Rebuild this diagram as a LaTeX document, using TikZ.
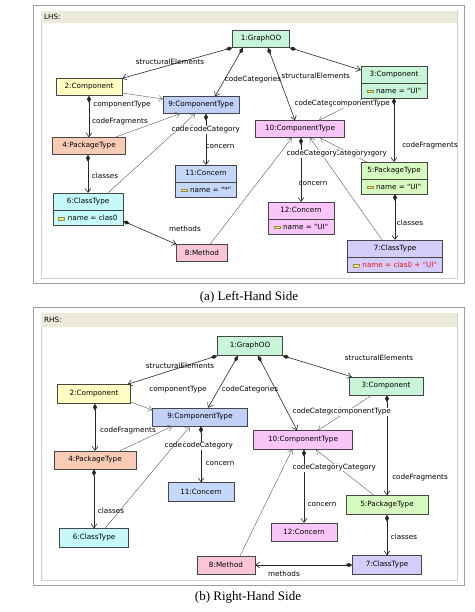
\documentclass[tikz,border=0pt]{standalone}
\usepackage{fontspec}
\setmainfont{Liberation Serif}
\newfontfamily\diafont{DejaVu Sans}
\usepackage{xcolor}
\usetikzlibrary{arrows.meta,shapes.multipart}

\definecolor{objline}{RGB}{70,70,70}
\definecolor{graphfill}{RGB}{200,244,216}
\definecolor{compfill}{RGB}{255,255,196}
\definecolor{ctypefill}{RGB}{192,208,248}
\definecolor{packfill}{RGB}{250,204,182}
\definecolor{classfill}{RGB}{198,250,250}
\definecolor{concernfill}{RGB}{198,216,250}
\definecolor{methodfill}{RGB}{250,198,214}
\definecolor{pinkfill}{RGB}{250,198,250}
\definecolor{limefill}{RGB}{214,250,192}
\definecolor{lilacfill}{RGB}{214,204,250}
\definecolor{headfill}{RGB}{236,234,218}
\definecolor{attrfill}{RGB}{240,230,140}
\definecolor{attrline}{RGB}{150,140,60}
\definecolor{attrred}{RGB}{230,20,20}

\newcommand{\objfont}{\diafont\fontsize{7.2}{8.5}\selectfont}
\newcommand{\attricon}{\raisebox{0.6pt}{\setlength{\fboxsep}{0pt}\setlength{\fboxrule}{0.4pt}\fcolorbox{attrline}{attrfill}{\rule{0pt}{2.4pt}\rule{5.5pt}{0pt}}}\hspace{3pt}}

\begin{document}
\begin{tikzpicture}[x=1pt,y=-1pt,
  obj/.style={draw=objline, font=\objfont, inner xsep=2pt, inner ysep=0pt, minimum height=17pt},
  objattr/.style={draw=objline, font=\objfont, rectangle split, rectangle split parts=2, inner xsep=2pt, inner ysep=4.5pt, text height=6pt, text depth=1.5pt},
  comp/.style={{Diamond[length=7pt,width=4pt]}-{Straight Barb[length=4pt,width=6pt]}, draw=black!85, line width=0.6pt},
  assoc/.style={-{Straight Barb[length=4pt,width=6pt]}, draw=black!65, line width=0.4pt},
  lbl/.style={font=\objfont, inner sep=0.4pt},
  toplbl/.style={lbl, fill=white},
  panel/.style={draw=gray!75, line width=0.8pt},
  innerpanel/.style={draw=gray!35, line width=0.5pt},
  header/.style={fill=headfill},
  caption/.style={font=\fontsize{13}{15}\selectfont}
]
\useasboundingbox (0,0) rectangle (474,612);

% left-hand side
\draw[panel] (33,5) rectangle (464,283);
\draw[innerpanel] (41,11) rectangle (457,278);
\fill[header] (41,11) rectangle (457,23);
\node[anchor=west, font=\objfont, inner sep=0pt] (lhs) at (44,17) {LHS:};
\node[caption] (capa) at (249,297) {(a) Left-Hand Side};

\node[obj, fill=graphfill, minimum width=57pt] (l1) at (261,39) {1:GraphOO};
\node[obj, fill=compfill, minimum width=66pt] (l2) at (89,87) {2:Component};
\node[obj, fill=ctypefill, minimum width=76pt] (l9) at (201,105) {9:ComponentType};
\node[obj, fill=packfill, minimum width=73pt] (l4) at (89,146) {4:PackageType};
\node[objattr, fill=classfill, minimum width=70pt] (l6) at (88,209) {6:ClassType\nodepart{two}\attricon name = clas0};
\node[objattr, fill=concernfill, minimum width=61pt] (l11) at (206,181) {11:Concern\nodepart{two}\attricon name = "*"};
\node[obj, fill=methodfill, minimum width=51pt] (l8) at (202,253) {8:Method};
\node[obj, fill=pinkfill, minimum width=89pt] (l10) at (300,129) {10:ComponentType};
\node[objattr, fill=graphfill, minimum width=66pt] (l3) at (394,82) {3:Component\nodepart{two}\attricon name = "UI"};
\node[objattr, fill=pinkfill, minimum width=66pt] (l12) at (301,218) {12:Concern\nodepart{two}\attricon name = "UI"};
\node[objattr, fill=limefill, minimum width=66pt] (l5) at (394,178) {5:PackageType\nodepart{two}\attricon name = "UI"};
\node[objattr, fill=lilacfill, minimum width=95pt] (l7) at (395,256) {7:ClassType\nodepart{two}\attricon\textcolor{attrred}{name = clas0 + "UI"}};

\foreach \a/\b in {l2/l4, l4/l6, l9/l11, l10/l12, l3/l5, l5/l7}
  \draw[comp] (\b.north |- \a.south) -- (\b.north);
\draw[comp] (l1.south west) -- (l2.north east);
\draw[comp] ([xshift=-18]l1.south) -- ([xshift=14]l9.north);
\draw[comp] ([xshift=7]l1.south) -- ([xshift=-5]l10.north);
\draw[comp] (l1.south east) -- ([yshift=12]l3.west);
\draw[comp] ([yshift=4]l6.south east) -- (l8.north west);
\draw[assoc] ([yshift=-6]l2.east) -- ([yshift=6]l9.west);
\draw[assoc] ([xshift=26]l4.north) -- ([xshift=-21]l9.south);
\draw[assoc] ([xshift=20]l6.north) -- ([xshift=-6]l9.south);
\draw[assoc] ([xshift=8]l8.north) -- ([xshift=-8]l10.south);
\draw[assoc] ([xshift=-13]l7.north) -- ([xshift=10]l10.south);
\draw[assoc] ([xshift=6]l5.north west) -- ([xshift=20]l10.south);
\draw[assoc] ([xshift=3]l3.south west) -- ([xshift=19]l10.north);

\node[lbl] (la) at (170,62) {structuralElements};
\node[lbl] (lb) at (253,80) {codeCategories};
\node[toplbl, anchor=west] (lc) at (281,76) {structuralElements};
\node[lbl] (ld) at (122,105) {componentType};
\node[lbl] (le) at (120,122) {codeFragments};
\node[lbl, anchor=west] (lf) at (171,130) {codeCategory};
\node[toplbl, anchor=west] (lg) at (189,130) {codeCategory};
\node[lbl] (lh) at (220,147) {concern};
\node[lbl] (li) at (105,176) {classes};
\node[lbl] (lj) at (185,229) {methods};
\node[lbl, anchor=west] (lk) at (294,104) {codeCategories};
\node[toplbl, anchor=west] (ll) at (332,104) {componentType};
\node[lbl] (lm) at (430,146) {codeFragments};
\node[lbl] (ln) at (313,184) {concern};
\node[lbl] (lo) at (410,223) {classes};
\node[lbl, anchor=west] (lp) at (336,154) {codeCategory};
\node[toplbl, anchor=west] (lq) at (317,154) {codeCategory};
\node[toplbl, anchor=west] (lr) at (286,154) {codeCategory};

% right-hand side
\draw[panel] (33,307) rectangle (464,585);
\draw[innerpanel] (41,313) rectangle (457,580);
\fill[header] (41,313) rectangle (457,327);
\node[anchor=west, font=\objfont, inner sep=0pt] (rhs) at (44,320) {RHS:};
\node[caption] (capb) at (248,597) {(b) Right-Hand Side};

\node[obj, fill=graphfill, minimum width=65pt, minimum height=19pt] (r1) at (250,346) {1:GraphOO};
\node[obj, fill=compfill, minimum width=73pt, minimum height=19pt] (r2) at (94,394) {2:Component};
\node[obj, fill=ctypefill, minimum width=95pt, minimum height=18pt] (r9) at (200,417) {9:ComponentType};
\node[obj, fill=packfill, minimum width=82pt, minimum height=18pt] (r4) at (95,460) {4:PackageType};
\node[obj, fill=classfill, minimum width=69pt, minimum height=19pt] (r6) at (94,538) {6:ClassType};
\node[obj, fill=concernfill, minimum width=66pt, minimum height=19pt] (r11) at (201,492) {11:Concern};
\node[obj, fill=methodfill, minimum width=58pt, minimum height=18pt] (r8) at (226,565) {8:Method};
\node[obj, fill=pinkfill, minimum width=66pt, minimum height=18pt] (r12) at (304,532) {12:Concern};
\node[obj, fill=pinkfill, minimum width=99pt, minimum height=19pt] (r10) at (303,440) {10:ComponentType};
\node[obj, fill=graphfill, minimum width=74pt, minimum height=18pt] (r3) at (386,386) {3:Component};
\node[obj, fill=limefill, minimum width=82pt, minimum height=19pt] (r5) at (387,505) {5:PackageType};
\node[obj, fill=lilacfill, minimum width=69pt, minimum height=19pt] (r7) at (387,565) {7:ClassType};

\foreach \a/\b in {r2/r4, r4/r6, r9/r11, r10/r12, r3/r5, r5/r7}
  \draw[comp] (\b.north |- \a.south) -- (\b.north);
\draw[comp] (r1.south west) -- ([xshift=-3]r2.north east);
\draw[comp] ([xshift=-12]r1.south) -- ([xshift=8]r9.north);
\draw[comp] ([xshift=8]r1.south) -- ([xshift=-6]r10.north);
\draw[comp] (r1.south east) -- ([xshift=3]r3.north west);
\draw[comp] (r7.west) -- (r8.east);
\draw[assoc] ([yshift=-8]r2.east) -- ([yshift=7]r9.west);
\draw[assoc] ([xshift=25]r4.north) -- ([xshift=-28]r9.south);
\draw[assoc] ([xshift=11]r6.north) -- ([xshift=-10]r9.south);
\draw[assoc] ([xshift=14]r8.north) -- ([xshift=-11]r10.south);
\draw[assoc] ([xshift=-13]r5.north) -- ([xshift=13]r10.south);
\draw[assoc] ([xshift=-14]r3.south) -- ([xshift=15]r10.north);

\node[lbl] (ra) at (180,366) {structuralElements};
\node[lbl] (rb) at (178,390) {componentType};
\node[lbl] (rc) at (250,390) {codeCategories};
\node[lbl] (rd) at (379,358) {structuralElements};
\node[lbl, anchor=west] (re) at (292,412) {codeCategories};
\node[toplbl, anchor=west] (rf) at (333,412) {componentType};
\node[lbl] (rg) at (128,431) {codeFragments};
\node[lbl] (rh) at (420,478) {codeFragments};
\node[lbl] (ri) at (111,511) {classes};
\node[lbl] (rj) at (220,464) {concern};
\node[lbl, anchor=west] (rk) at (164,446) {codeCategory};
\node[toplbl, anchor=west] (rl) at (182,446) {codeCategory};
\node[lbl, anchor=west] (rm) at (325,468) {codeCategory};
\node[toplbl, anchor=west] (rn) at (292,468) {codeCategory};
\node[lbl] (ro) at (322,505) {concern};
\node[lbl] (rp) at (404,537) {classes};
\node[lbl] (rq) at (284,574) {methods};
\end{tikzpicture}
\end{document}
